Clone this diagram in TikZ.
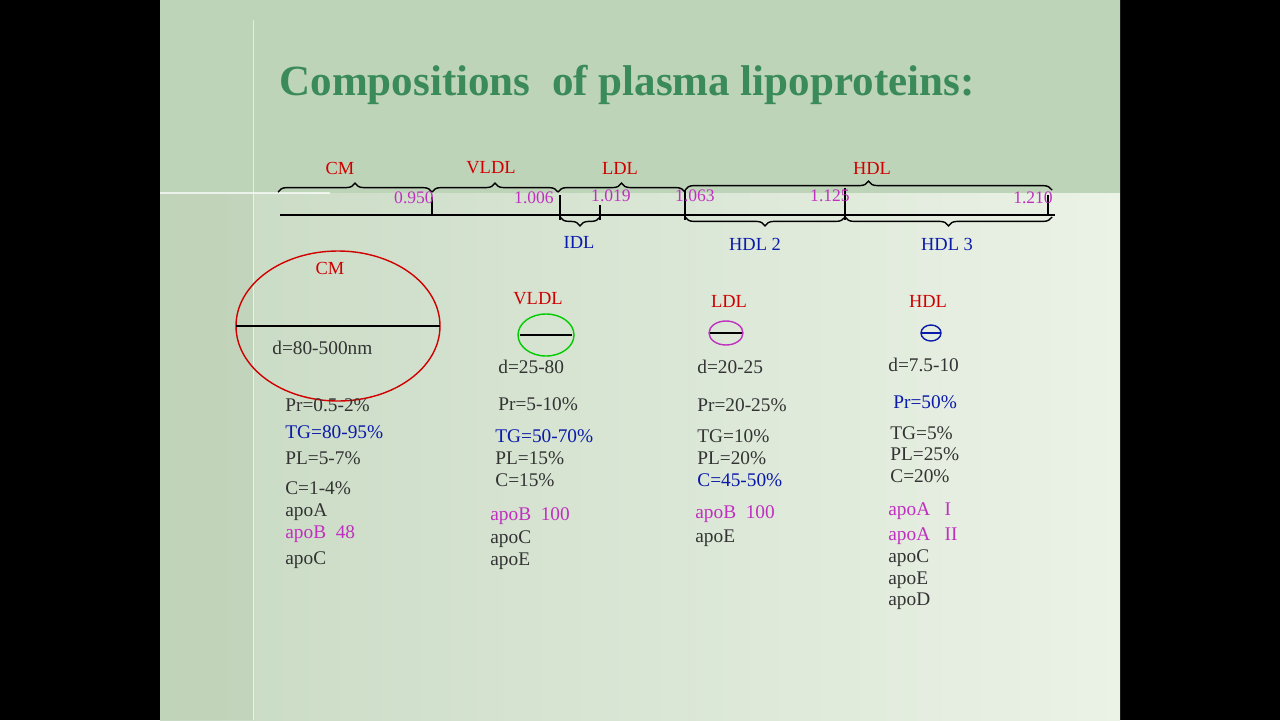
\documentclass[tikz,border=0pt]{standalone}
\usepackage{fontspec}
\setmainfont{Liberation Serif}
\usetikzlibrary{decorations.pathreplacing}
\definecolor{lbl}{HTML}{D00000}
\definecolor{mag}{HTML}{C030C0}
\definecolor{blu}{HTML}{0A1AAA}
\definecolor{gry}{HTML}{333333}
\definecolor{ttl}{HTML}{3A8A5A}
\definecolor{bgl}{RGB}{200,218,195}
\definecolor{bgr}{RGB}{235,242,230}
\definecolor{bgt}{RGB}{190,212,185}
\definecolor{bgs}{RGB}{188,208,180}
\begin{document}
\begin{tikzpicture}[x=0.02cm,y=-0.02cm,
  t/.style={font=\fontsize{11}{13}\selectfont,text=gry,anchor=west,inner sep=0},
  r/.style={font=\fontsize{10.5}{12}\selectfont,text=lbl,inner sep=0},
  n/.style={font=\fontsize{10}{11}\selectfont,text=mag,inner sep=0},
  b/.style={font=\fontsize{10.5}{12}\selectfont,text=blu,inner sep=0},
  br/.style={decorate,decoration={brace,amplitude=5pt}, line width=0.8pt},
  ax/.style={line width=0.9pt}]
\useasboundingbox (0,0) rectangle (1280,720);
\fill[black] (0,0) rectangle (1280,720);
\shade[left color=bgl, right color=bgr] (160,0) rectangle (1120,720);
\fill[bgt] (160,0) rectangle (1120,193);
\fill[bgs,opacity=0.6] (160,193) rectangle (253,720);
\draw[white,opacity=0.7,line width=1pt] (160,193) -- (330,193);
\draw[white,opacity=0.6] (253,20) -- (253,720);
\node[font=\bfseries\fontsize{24.5}{28}\selectfont,text=ttl] (title) at (627,85) {Compositions\ \ of plasma lipoproteins:};
% axis
\coordinate (a0) at (280,215); \coordinate (a1) at (1055,215);
\draw[ax] (a0) -- (a1);
\draw[ax] (432,197) -- (432,215);
\draw[ax] (560,195) -- (560,220);
\draw[ax] (600,205) -- (600,220);
\draw[ax] (685,190) -- (685,220);
\draw[ax] (845,188) -- (845,220);
\draw[ax] (1048,195) -- (1048,215);
\draw[br] (278,192) -- (432,192);
\draw[br] (432,192) -- (558,192);
\draw[br] (558,192) -- (685,192);
\draw[br] (685,190) -- (1052,190);
\draw[br] (600,217) -- (560,217);
\draw[br] (845,217) -- (685,217);
\draw[br] (1052,217) -- (845,217);
\node[r] (lcm) at (340,168) {CM};
\node[r] (lvl) at (491,168) {VLDL};
\node[r] (lld) at (620,168) {LDL};
\node[r] (lhd) at (872,168) {HDL};
\node[n] (n1) at (414,198) {0.950};
\node[n] (n2) at (534,198) {1.006};
\node[n] (n3) at (611,196) {1.019};
\node[n] (n4) at (695,196) {1.063};
\node[n] (n5) at (830,196) {1.125};
\node[n] (n6) at (1033,198) {1.210};
\node[b] (idl) at (579,242) {IDL};
\node[b] (h2) at (755,244) {HDL 2};
\node[b] (h3) at (947,244) {HDL 3};
% particles
\draw[lbl,line width=0.8pt] (338,326) ellipse [x radius=102,y radius=75];
\draw[ax] (236,326) -- (440,326);
\draw[green!80!black,line width=0.8pt] (546,335) ellipse [x radius=28,y radius=21];
\draw[ax] (520,335) -- (572,335);
\draw[mag,line width=0.8pt] (726,333) ellipse [x radius=17,y radius=12];
\draw[ax] (710,333) -- (742,333);
\draw[blu,line width=0.8pt] (931,333) ellipse [x radius=10,y radius=8];
\draw[blu,line width=0.8pt] (921,333) -- (941,333);
\node[r] (c1) at (330,268) {CM};
\node[r] (c2) at (538,299) {VLDL};
\node[r] (c3) at (729,301) {LDL};
\node[r] (c4) at (928,301) {HDL};
% column 1
\node[t] at (272,348) {d=80-500nm};
\node[t] at (285,405) {Pr=0.5-2\%};
\node[t,text=blu] at (285,432) {TG=80-95\%};
\node[t] at (285,458) {PL=5-7\%};
\node[t] at (285,488) {C=1-4\%};
\node[t] at (285,512) {apoA};
\node[t,text=mag] at (285,534) {apoB\ \ 48};
\node[t] at (285,560) {apoC};
% column 2
\node[t] at (498,367) {d=25-80};
\node[t] at (498,404) {Pr=5-10\%};
\node[t,text=blu] at (495,436) {TG=50-70\%};
\node[t] at (495,458) {PL=15\%};
\node[t] at (495,480) {C=15\%};
\node[t,text=mag] at (490,516) {apoB\ \ 100};
\node[t] at (490,539) {apoC};
\node[t] at (490,561) {apoE};
% column 3
\node[t] at (697,367) {d=20-25};
\node[t] at (697,405) {Pr=20-25\%};
\node[t] at (697,436) {TG=10\%};
\node[t] at (697,458) {PL=20\%};
\node[t,text=blu] at (697,480) {C=45-50\%};
\node[t,text=mag] at (695,514) {apoB\ \ 100};
\node[t] at (695,538) {apoE};
% column 4
\node[t] at (888,365) {d=7.5-10};
\node[t,text=blu] at (893,402) {Pr=50\%};
\node[t] at (890,433) {TG=5\%};
\node[t] at (890,454) {PL=25\%};
\node[t] at (890,476) {C=20\%};
\node[t,text=mag] at (888,511) {apoA\ \ \ I};
\node[t,text=mag] at (888,536) {apoA\ \ \ II};
\node[t] at (888,558) {apoC};
\node[t] at (888,580) {apoE};
\node[t] at (888,601) {apoD};
\end{tikzpicture}
\end{document}
